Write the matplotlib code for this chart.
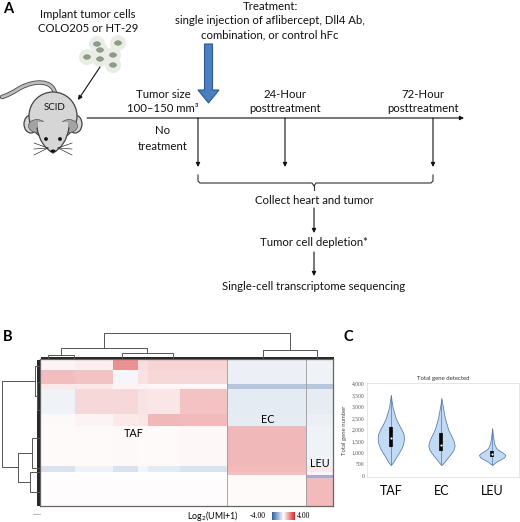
import numpy as np
import matplotlib
matplotlib.use('Agg')
import matplotlib.pyplot as plt
from matplotlib import patches
from matplotlib.path import Path
from matplotlib.colors import LinearSegmentedColormap

W, H = 520, 522
TXT = ['Lato', 'DejaVu Sans']

# ---------------- data ----------------
# B: heatmap, block means of centred log2(UMI+1)
col_sizes = [35, 38, 25, 10, 32, 47, 79, 27]          # cells per column block
row_sizes = [11, 14, 5, 25, 12, 40, 6, 3, 3, 28]      # genes per row block
block_vals = [
    [0.2, 0.3, 2.0, 0.6, 0.8, 0.8, -0.35, -0.3],
    [1.2, 1.1, -0.2, 0.5, 0.7, 0.7, -0.35, -0.3],
    [0.4, 0.4, 0.2, 0.2, 0.15, 0.15, -1.4, -1.4],
    [-0.3, 0.7, 0.7, 0.5, 0.45, 1.1, -0.5, -0.45],
    [0.1, 0.2, 0.4, 0.45, 1.3, 1.25, -0.45, -0.35],
    [0.08, 0.08, 0.1, 0.08, 0.08, 0.15, 1.3, -0.3],
    [-0.7, -0.3, -0.7, -0.25, -0.5, -0.7, 1.25, 0.4],
    [0.0, 0.0, 0.0, 0.0, 0.0, 0.0, 1.15, -0.2],
    [0.0, 0.0, 0.0, 0.0, 0.0, 0.0, 0.1, -1.9],
    [0.04, 0.04, 0.04, 0.04, 0.04, 0.04, 0.08, 1.25],
]
clusters = ['TAF', 'EC', 'LEU']
cluster_cells = [187, 79, 27]

# dendrograms: leaf positions and merges (a, b, height)
top_leaves = [7, 33, 81, 132, 222, 276]
top_merges = [(0, 1, 4), (2, 3, 6), (4, 5, 9), (6, 7, 11), (9, 8, 26)]
left_leaves = [6, 22, 50, 78, 108, 112, 132]
left_merges = [(1, 2, 3), (0, 7, 5), (3, 4, 8), (5, 6, 10), (9, 10, 22), (8, 11, 38)]

# C: total gene detected, violin profiles (relative density)
taf_lvl = [460, 600, 800, 1000, 1200, 1400, 1600, 1800, 2000, 2200, 2500, 3000, 3500]
taf_den = [0, .2, .4, .62, .82, .95, 1.0, .97, .82, .62, .37, .12, 0]
ec_lvl = [460, 500, 700, 900, 1100, 1300, 1500, 1700, 2000, 2500, 3000, 3350]
ec_den = [0, .08, .36, .64, .9, 1.0, .92, .77, .51, .26, .1, 0]
leu_lvl = [460, 500, 600, 700, 800, 900, 1000, 1100, 1200, 1400, 1700, 2050]
leu_den = [0, .1, .3, .62, .92, 1.0, .8, .5, .3, .15, .07, 0]
q1 = [1250, 1050, 800]
med = [1650, 1350, 950]
q3 = [2100, 1850, 1050]


def px_axes(x0, y0, x1, y1):
    return fig.add_axes([x0 / W, 1 - y1 / H, (x1 - x0) / W, (y1 - y0) / H])


fig = plt.figure(figsize=(W / 100, H / 100), dpi=100)

# ---------------- A: schematic ----------------
ax = fig.add_axes([0, 0, 1, 1])
ax.set_xlim(0, W)
ax.set_ylim(H, 0)
ax.axis('off')

def t(x, y, s, size=8.2, **kw):
    ax.text(x, y, s, ha='center', va='center', fontsize=size, family=TXT, color='#111', **kw)

def arrow(x0, y0, x1, y1):
    ax.annotate('', xy=(x1, y1), xytext=(x0, y0),
                arrowprops=dict(arrowstyle='-|>', color='#111', lw=0.8, mutation_scale=6,
                                shrinkA=0, shrinkB=0))

ax.text(3, 9, 'A', fontsize=10.5, fontweight='bold', family=TXT, va='center')
ax.text(3, 337, 'B', fontsize=10.5, fontweight='bold', family=TXT, va='center')
ax.text(343, 337, 'C', fontsize=10.5, fontweight='bold', family=TXT, va='center')

t(88, 14, 'Implant tumor cells')
t(88, 28, 'COLO205 or HT-29')
t(270, 6, 'Treatment:')
t(270, 21, 'single injection of aflibercept, Dll4 Ab,')
t(270, 35, 'combination, or control hFc')
t(163, 95, 'Tumor size')
t(163, 109, '100–150 mm³')
t(163, 131, 'No')
t(163, 146, 'treatment')
t(285, 95, '24-Hour')
t(285, 109, 'posttreatment')
t(423, 95, '72-Hour')
t(423, 109, 'posttreatment')
t(314, 201, 'Collect heart and tumor')
t(314, 242, 'Tumor cell depletion*')
t(314, 287, 'Single-cell transcriptome sequencing')

arrow(87, 118, 464, 118)
for xa in [198, 285, 433]:
    arrow(xa, 118, xa, 167)
ax.plot([198, 198, 200, 312, 314, 316, 431, 433, 433],
        [175, 181, 183, 183, 186, 183, 183, 181, 175], color='#333', lw=0.8)
ax.plot([314, 314], [185, 190], color='#333', lw=0.8)
arrow(314, 208, 314, 233)
arrow(314, 252, 314, 276)

ax.add_patch(patches.FancyArrow(208.5, 44, 0, 59, width=8, head_width=21, head_length=13,
                                length_includes_head=True, fc='#4a7ebf', ec='#2d5a92', lw=0.8))

# tumor cells
blob = [(97, 44), (118, 43), (100, 50), (87, 57), (113, 55), (100, 59), (113, 65)]
for bx, by in blob:
    ax.add_patch(patches.Circle((bx, by), 8, fc='#eaede5', ec='none'))
for bx, by in blob:
    ax.add_patch(patches.Ellipse((bx, by), 7, 4.5, fc='#8e9c8a', ec='#6f7d6b', lw=0.3))
arrow(100, 67, 78, 100)

# mouse
tail = Path([(55, 93), (52, 80), (35, 80), (20, 88), (12, 93), (6, 96), (2, 97)],
            [Path.MOVETO, Path.CURVE4, Path.CURVE4, Path.CURVE4, Path.CURVE4, Path.CURVE4, Path.CURVE4])
ax.add_patch(patches.PathPatch(tail, fc='none', ec='#444', lw=3.2, capstyle='round'))
ax.add_patch(patches.PathPatch(tail, fc='none', ec='#bdbdbd', lw=2.0, capstyle='round'))
for ex in [31, 75]:
    ax.add_patch(patches.Ellipse((ex, 124), 14, 18, fc='#d6d6d6', ec='#444', lw=0.9))
ax.add_patch(patches.Circle((53, 116), 24, fc='#d6d6d6', ec='#444', lw=0.9))
for ex in [33, 73]:
    ax.add_patch(patches.Ellipse((ex + (4 if ex < 53 else -4), 126), 17, 13, fc='#a3a3a3', ec='#555', lw=0.5))
face = Path([(37, 128), (40, 146), (53, 153), (53, 153), (66, 146), (69, 128), (37, 128)],
            [Path.MOVETO, Path.CURVE3, Path.CURVE3, Path.LINETO, Path.CURVE3, Path.CURVE3, Path.CLOSEPOLY])
ax.add_patch(patches.PathPatch(face, fc='#d6d6d6', ec='#444', lw=0.9))
ax.add_patch(patches.Rectangle((38, 122), 30, 8, fc='#d6d6d6', ec='none'))
for ex in [46, 60]:
    ax.add_patch(patches.Circle((ex, 139), 1.9, fc='#111', ec='none'))
ax.add_patch(patches.Ellipse((53, 151), 5, 3, fc='#111', ec='none'))
for sgn in [-1, 1]:
    for dy in [-5, 1, 7]:
        ax.plot([53 + sgn * 5, 53 + sgn * 19], [148, 148 + dy], color='#333', lw=0.5)
ax.text(55, 107, 'SCID', fontsize=7, family=TXT, ha='center', va='center', color='#111')

# ---------------- B: heatmap ----------------
mat = np.repeat(np.repeat(np.array(block_vals), row_sizes, axis=0), col_sizes, axis=1)
cmap = LinearSegmentedColormap.from_list('bwr_', ['#2f5f9e', '#ffffff', '#d7262b'])
hx0, hy0, hx1, hy1 = 40, 359, 333, 506
axh = px_axes(hx0, hy0, hx1, hy1)
im = axh.imshow(mat, cmap=cmap, vmin=-4, vmax=4, aspect='auto', interpolation='nearest')
axh.set_xticks([])
axh.set_yticks([])
for s in axh.spines.values():
    s.set_color('#666')
    s.set_linewidth(0.9)
for b in np.cumsum(cluster_cells)[:-1]:
    axh.axvline(b - 0.5, color='#9a9a9a', lw=0.6)
axh.text(93, 74, 'TAF', fontsize=7.8, family=TXT, ha='center', va='center')
axh.text(227, 60, 'EC', fontsize=7.8, family=TXT, ha='center', va='center')
axh.text(279, 104, 'LEU', fontsize=7.8, family=TXT, ha='center', va='center')


def draw_dendro(dax, leaves, merges, sideways=False):
    pos = list(leaves)
    hgt = [0.0] * len(leaves)
    for a, b, hh in merges:
        xs = [pos[a], pos[a], pos[b], pos[b]]
        ys = [hgt[a], hh, hh, hgt[b]]
        if sideways:
            dax.plot(ys, xs, color='#555', lw=0.7)
        else:
            dax.plot(xs, ys, color='#555', lw=0.7)
        pos.append((pos[a] + pos[b]) / 2)
        hgt.append(hh)


axt = px_axes(hx0, 332, hx1, hy0)
draw_dendro(axt, top_leaves, top_merges)
axt.fill_between([0, 293], 0, 1.6, color='#2a2a2a', lw=0)
axt.set_xlim(-0.5, 292.5)
axt.set_ylim(0, 27)
axt.axis('off')

axl = px_axes(0, hy0, hx0, hy1)
draw_dendro(axl, left_leaves, left_merges, sideways=True)
axl.fill_betweenx([0, 147], 0, 3, color='#2a2a2a', lw=0)
axl.set_xlim(40, 0)
axl.set_ylim(146.5, -0.5)
axl.axis('off')

ax.plot([33, 40], [514, 514], color='#aaa', lw=0.6)
ax.text(187, 516, r'Log$_2$(UMI+1)', fontsize=6.3, family=TXT, va='center', ha='left')
ax.text(250, 516, '-4.00', fontsize=5.6, family='Liberation Serif', va='center', ha='left')
ax.text(297, 516, '4.00', fontsize=5.6, family='Liberation Serif', va='center', ha='left')
cax = px_axes(272, 512, 295, 520)
cb = fig.colorbar(im, cax=cax, orientation='horizontal')
cb.set_ticks([])
cb.outline.set_visible(False)

# ---------------- C: violins ----------------
axv = px_axes(367, 383, 519, 477)
profiles = [(taf_lvl, taf_den), (ec_lvl, ec_den), (leu_lvl, leu_den)]
half = 0.26
for i, (lv, dn) in enumerate(profiles):
    lv = np.array(lv)
    dn = np.array(dn) * half
    axv.fill_betweenx(lv, i - dn, i + dn, fc='#c3daf5', ec='#5f82ad', lw=0.6)
    axv.vlines(i, lv[0], lv[-1], color='#4a78b0', lw=0.5)
    axv.vlines(i, q1[i], q3[i], color='black', lw=2.6)
    axv.scatter([i], [med[i]], s=2.5, c='white', zorder=5, lw=0)
axv.set_xlim(-0.47, 2.53)
axv.set_ylim(-60, 4020)
axv.set_yticks(range(0, 4001, 500))
axv.set_yticklabels([f'{v:,}' for v in range(0, 4001, 500)], fontsize=4,
                    family='Liberation Serif', color='#555')
axv.set_xticks(range(3))
axv.set_xticklabels(clusters, fontsize=9, family=TXT)
axv.tick_params(length=0, pad=2)
axv.tick_params(axis='x', pad=6)
for s in axv.spines.values():
    s.set_color('#e2e2e2')
    s.set_linewidth(0.6)
axv.set_ylabel('Total gene number', fontsize=4.3, family=TXT, color='#444', labelpad=3)
axv.set_title('Total gene detected', fontsize=4.3, family=TXT, color='#333', pad=2)

fig.savefig('out.png', dpi=100)
